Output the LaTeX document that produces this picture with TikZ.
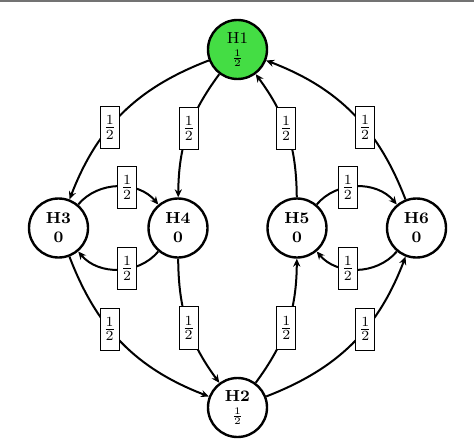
\documentclass[tikz,border=0pt]{standalone}
\usepackage{amsmath,amssymb}
\usetikzlibrary{arrows.meta}
\usepackage{xcolor}
\definecolor{hgreen}{HTML}{44DD44}
\definecolor{rulegray}{HTML}{737373}

\begin{document}
\begin{tikzpicture}[
  x=0.5pt, y=-0.5pt,
  hnode/.style={circle, draw=black, line width=1.2pt, fill=white, minimum size=29.5pt, inner sep=0pt, align=center, font=\footnotesize},
  hstart/.style={hnode, fill=hgreen},
  prob/.style={draw=black, line width=0.5pt, fill=white, inner xsep=1.6pt, inner ysep=4.6pt},
  edge/.style={line width=1pt},
  >={Stealth[length=4pt, width=3.6pt]}
]
\useasboundingbox (0,0) rectangle (474,438);
\fill[rulegray] (0,0) rectangle (474,2.5);

% states
\node[hstart] (h1) at (237.5, 49.5) {H1\\[-1pt]$\scriptstyle\frac{1}{2}$};
\node[hnode] (h2) at (237.5, 407.5) {\textbf{H2}\\[-1pt]$\scriptstyle\frac{1}{2}$};
\foreach \n/\x in {3/58.5, 4/178, 5/297, 6/416.5}{
  \node[hnode] (h\n) at (\x, 228) {\textbf{H\n}\\\textbf{0}};
}

% outer and inner transitions
\foreach \a/\b/\bend/\p in {h1/h3/24/0.6, h1/h4/18/0.47, h5/h1/18/0.53, h6/h1/24/0.4,
                            h3/h2/24/0.4, h4/h2/18/0.53, h2/h5/18/0.47, h2/h6/24/0.6}{
  \draw[->, edge] (\a) to[bend right=\bend] node[prob, pos=\p] {$\frac{1}{2}$} (\b);
}
% side loops
\foreach \a/\b/\p in {h3/h4/0.6, h4/h3/0.4, h5/h6/0.4, h6/h5/0.6}{
  \draw[->, edge] (\a) to[bend left=50] node[prob, pos=\p] {$\frac{1}{2}$} (\b);
}
\end{tikzpicture}
\end{document}
